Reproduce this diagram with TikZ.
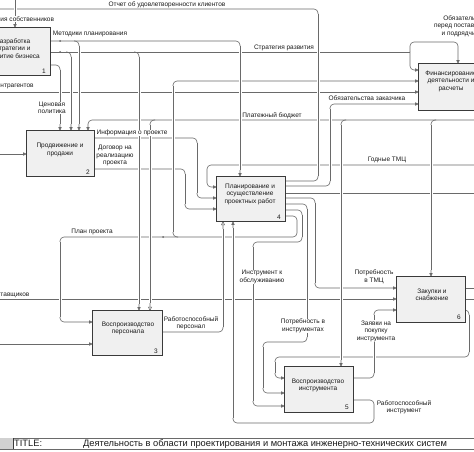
\documentclass[tikz,border=0pt]{standalone}
\usepackage{fontspec}
\setmainfont{Liberation Sans}
\usetikzlibrary{arrows.meta}
\definecolor{lc}{HTML}{6A6A6A}
\definecolor{bc}{HTML}{3A3A3A}
\definecolor{bf}{HTML}{F0F0F0}
\definecolor{txt}{HTML}{1A1A1A}
\newcommand\vseg[3]{\draw[lnhalo] (#1,#2) -- (#1,#3);}
\tikzset{
  ln/.style={draw=lc, line width=0.6pt, rounded corners=4pt},
  lnhalo/.style={draw=lc, line width=0.6pt, preaction={draw=white, line width=3pt}},
  tip/.style={-{Triangle[length=3.6pt,width=3.2pt]}},
  otip/.style={-{Triangle[open,length=4pt,width=4pt,fill=white]}},
  box/.style={draw=bc, fill=bf, line width=0.8pt, inner sep=0pt},
  lbl/.style={font=\fontsize{6.5}{7.5}\selectfont, align=center, inner sep=0.3pt, text=txt},
  wlbl/.style={lbl, fill=white},
  num/.style={font=\fontsize{6.5}{7.5}\selectfont, inner sep=0pt, text=txt},
  dot/.style={fill=lc, draw=none},
  ttl/.style={font=\fontsize{9.3}{10}\selectfont, anchor=west, inner sep=0pt, text=txt},
}
\begin{document}
\begin{tikzpicture}[x=1pt,y=-1pt]
\useasboundingbox (0,0) rectangle (474,452);
\clip (0,0) rectangle (474,452);
\fill[white] (0,0) rectangle (474,452);

% ---- box nodes (anchors); drawn later on top of the connectors
\path
  (15,51.5)   node[minimum width=70pt, minimum height=47pt, inner sep=0pt] (b1) {}
  (60.5,153.5) node[minimum width=67pt, minimum height=45pt, inner sep=0pt] (b2) {}
  (251,199)   node[minimum width=68pt, minimum height=44pt, inner sep=0pt] (b4) {}
  (127.5,333) node[minimum width=69pt, minimum height=44pt, inner sep=0pt] (b3) {}
  (319,389.5) node[minimum width=68pt, minimum height=45pt, inner sep=0pt] (b5) {}
  (431,299.5) node[minimum width=68pt, minimum height=45pt, inner sep=0pt] (b6) {}
  (451,87)    node[minimum width=64pt, minimum height=46pt, inner sep=0pt] (bF) {};

\coordinate (wL) at (-5,0);
\coordinate (eR) at (480,0);

% ---- pass 1: connectors
\draw[ln] (b4.east |- 0,181) -- (318,181) -- (318,9) -- (wL |- 0,9);
\draw[ln,tip] (15,-5) -- (b1.north);
\draw[ln,tip] (b1.east |- 0,41) -- (240,41) -- (b4.north -| 240,0);
\draw[ln,tip] (74,41) -- (79,41) -- (b2.north -| 79,0);
\draw[ln] (b1.east |- 0,52) -- (410,52);
\draw[ln,tip] (410,52) -- (410,42) -- (458,42) -- (bF.north -| 458,0);
\draw[ln,tip] (410,52) -- (410,70) -- (bF.west |- 0,70);
\draw[ln,tip] (66,52) -- (71,52) -- (b2.north -| 71,0);
\draw[ln,tip] (134,52) -- (139,52) -- (b3.north -| 139,0);
\draw[ln,tip] (b1.east |- 0,65) -- (60,65) -- (b2.north -| 60,0);
\draw[ln,tip] (wL |- 0,92) -- (bF.west |- 0,92);
\draw[ln,tip] (eR |- 0,120) -- (88,120) -- (b2.north -| 88,0);
\draw[ln,otip] (155,120) -- (150,120) -- (b3.north -| 150,0);
\draw[ln,tip] (346,120) -- (341,120) -- (b5.north -| 341,0);
\draw[ln,tip] (436,120) -- (431,120) -- (b6.north -| 431,0);
\draw[ln,tip] (b4.east |- 0,186) -- (330,186) -- (330,104) -- (bF.west |- 0,104);
\draw[ln,tip] (b2.east |- 0,138) -- (197,138) -- (197,198) -- (b4.west |- 0,198);
\draw[ln,tip] (b2.east |- 0,169) -- (185,169) -- (185,209) -- (b4.west |- 0,209);
\draw[ln,tip] (eR |- 0,165) -- (207,165) -- (207,187) -- (b4.west |- 0,187);
\draw[ln] (b4.east |- 0,193) -- (eR |- 0,193);
\draw[ln,tip] (b4.east |- 0,198) -- (315,198) -- (315,288) -- (b6.west |- 0,288);
\draw[ln,tip] (b4.east |- 0,204) -- (307,204) -- (307,342) -- (263,342) -- (263,393) -- (b5.west |- 0,393);
\draw[ln,tip] (b4.east |- 0,210) -- (302,210) -- (302,242) -- (253,242) -- (253,406) -- (b5.west |- 0,406);
\draw[ln,tip] (b4.east |- 0,216) -- (297,216) -- (297,237) -- (60,237) -- (60,322) -- (b3.west |- 0,322);
\draw[ln,tip] (178,237) -- (173,237) -- (173,81) -- (bF.west |- 0,81);
\draw[ln,otip] (b3.east |- 0,332) -- (223,332) -- (b4.south -| 223,0);
\draw[ln,tip] (wL |- 0,299) -- (b6.west |- 0,299);
\draw[ln,tip] (wL |- 0,154) -- (b2.west |- 0,154);
\draw[ln,tip] (wL |- 0,344) -- (b3.west |- 0,344);
\draw[ln,tip] (b5.east |- 0,378) -- (374,378) -- (374,310) -- (b6.west |- 0,310);
\draw[ln,tip] (b5.east |- 0,400) -- (374,400) -- (374,423) -- (233,423) -- (b4.south -| 233,0);
\draw[ln,tip] (b6.east |- 0,310) -- (469,310) -- (469,357) -- (275,357) -- (275,378) -- (b5.west |- 0,378);
\draw[ln] (b6.east |- 0,288) -- (eR |- 0,288);
\draw[ln] (b6.east |- 0,299) -- (eR |- 0,299);

% ---- pass 2: vertical runs on top (gaps at crossings)
\vseg{15}{-5}{22}
\vseg{318}{14}{176}
\vseg{79}{46}{124}
\vseg{240}{46}{170}
\vseg{71}{57}{124}
\vseg{139}{57}{304}
\vseg{60}{70}{124}
\vseg{150}{125}{303}
\vseg{341}{125}{360}
\vseg{431}{125}{270}
\vseg{330}{109}{181}
\vseg{197}{143}{193}
\vseg{185}{174}{204}
\vseg{315}{203}{283}
\vseg{307}{209}{337}
\vseg{263}{347}{388}
\vseg{302}{215}{237}
\vseg{253}{247}{401}
\vseg{60}{242}{317}
\vseg{173}{86}{232}
\vseg{223}{229}{327}
\vseg{374}{315}{373}
\vseg{233}{228}{418}
\vseg{469}{315}{352}
\vseg{275}{362}{373}

\fill[dot] (60,41) circle (1pt);
\fill[dot] (60,52) circle (1pt);
\fill[dot] (163,237) circle (1pt);

% ---- boxes
\foreach \b in {b1,b2,b3,b4,b5,b6,bF}
  \draw[box] (\b.south west) rectangle (\b.north east);

\node[lbl] (t1) at (13,49) {Разработка\\стратегии и\\развитие бизнеса};
\node[num] (n1) at (44,71) {1};
\node[lbl] (t2) at (60,150) {Продвижение и\\продажи};
\node[num] (n2) at (88,172) {2};
\node[lbl] (t4) at (250,194) {Планирование и\\осуществление\\проектных работ};
\node[num] (n4) at (279,217) {4};
\node[lbl] (t3) at (128,328.5) {Воспроизводство\\персонала};
\node[num] (n3) at (156,351) {3};
\node[lbl] (t5) at (318,385.5) {Воспроизводство\\инструмента};
\node[num] (n5) at (347,407.5) {5};
\node[lbl] (t6) at (432,295) {Закупки и\\снабжение};
\node[num] (n6) at (459,317.5) {6};
\node[lbl] (tF) at (451,81) {Финансирование\\деятельности и\\расчеты};

% ---- connector labels
\node[lbl] (l1) at (167,4.5) {Отчет об удовлетворенности клиентов};
\node[wlbl, anchor=west] (l2) at (0,19) {ия собственников};
\node[lbl] (l3) at (90,34) {Методики планирования};
\node[lbl, anchor=west] (l4) at (0,86.5) {нтрагентов};
\node[wlbl] (l5) at (52,108) {Ценовая\\политика};
\node[lbl] (l6) at (284,47.5) {Стратегия развития};
\node[lbl] (l7) at (272,115.5) {Платежный бюджет};
\node[lbl] (l8) at (367,98) {Обязательства заказчика};
\node[lbl] (l9) at (466,26) {Обязательства\\перед поставщиками\\и подрядчиками};
\node[wlbl] (l10) at (132,133) {Информация о проекте};
\node[lbl] (l11) at (115,155.5) {Договор на\\реализацию\\проекта};
\node[lbl] (l12) at (387,160) {Годные ТМЦ};
\node[lbl] (l13) at (92,232) {План проекта};
\node[wlbl] (l14) at (262,277) {Инструмент к\\обслуживанию};
\node[lbl] (l15) at (374,277) {Потребность\\в ТМЦ};
\node[lbl] (l16) at (191,323.5) {Работоспособный\\персонал};
\node[wlbl] (l17) at (303,326) {Потребность в\\инструментах};
\node[wlbl] (l18) at (376,331) {Заявки на\\покупку\\инструмента};
\node[lbl] (l19) at (404,407.5) {Работоспособный\\инструмент};
\node[lbl, anchor=west] (l20) at (0,295) {тавщиков};

% ---- title bar
\draw[draw=lc, line width=0.6pt, fill=white] (0,438) rectangle (476,449);
\fill[black!18] (0,438.3) rectangle (13,448.7);
\draw[draw=bc, line width=0.6pt] (13,438) -- (13,449);
\node[ttl] (tt) at (14,443.6) {TITLE:};
\node[ttl] (tx) at (83,443.6) {Деятельность в области проектирования и монтажа инженерно-технических систем};
\end{tikzpicture}
\end{document}
